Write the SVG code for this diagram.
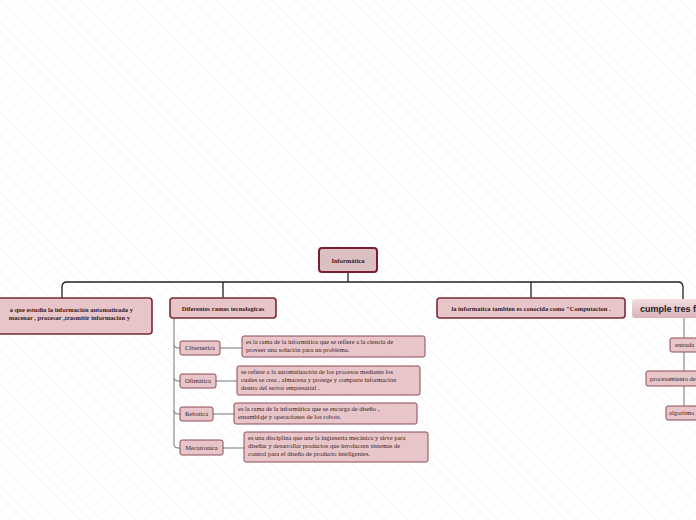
<svg xmlns="http://www.w3.org/2000/svg" width="696" height="520" viewBox="0 0 696 520">
<defs>
<pattern id="bg" width="8" height="8" patternUnits="userSpaceOnUse" patternTransform="rotate(-45)"><line x1="0" y1="0" x2="0" y2="8" stroke="#f0f0f0" stroke-width="1"/></pattern>
<linearGradient id="g" x1="0" y1="0" x2="0" y2="1"><stop offset="0" stop-color="#f2dde0"/><stop offset="1" stop-color="#d9b3b8"/></linearGradient>
</defs>
<style>
.n{fill:#e8c5c9;stroke:#8c4a56;stroke-width:1}
.m{fill:#e8c5c9;stroke:#7a2a38;stroke-width:1.6}
.r{fill:#dcbfc3;stroke:#7a1f30;stroke-width:2}
.t{font-family:"Liberation Serif",serif;font-size:6.5px;fill:#3a1a20}
.b{font-family:"Liberation Serif",serif;font-size:6.5px;font-weight:bold;fill:#3a1a20}
.c{fill:none;stroke:#222;stroke-width:1.3}
.c2{fill:none;stroke:#777;stroke-width:1}
</style>
<rect width="696" height="520" fill="#fff"/>
<rect width="696" height="520" fill="url(#bg)"/>
<g id="connectors">
<path class="c" d="M348 272V282M62 298V287Q62 282 67 282H678Q683 282 683 287V299"/>
<path class="c" d="M223 282V298M531 282V298"/>
<path class="c2" d="M174 318V445Q174 448 178 448H180M174 345Q174 348 178 348H180M174 378Q174 381 178 381H180M174 411Q174 414 178 414H180"/>
<path class="c2" d="M220 348H242M216 381H237M213 414H234M223 448H244"/>
<path class="c2" d="M684 318V420M684 345H696"/>
</g>
<g id="root"><rect class="r" x="319" y="248" width="58" height="24" rx="3"/><text class="b" x="348" y="263" text-anchor="middle">Informática</text></g>
<g id="def"><rect class="m" x="-10" y="298" width="162" height="36" rx="3"/><text class="b" x="133" y="312" text-anchor="end">a que estudia la información automatizada y</text><text class="b" x="130" y="320" text-anchor="end">macenar , procesar ,trasmitir información y</text></g>
<g id="ramas"><rect class="m" x="170" y="298" width="106" height="20" rx="3"/><text class="b" x="223" y="311" text-anchor="middle">Diferentes ramas tecnologicas</text></g>
<g id="comp"><rect class="m" x="437" y="298" width="188" height="20" rx="3"/><text class="b" x="531" y="311" text-anchor="middle">la informatica tambien es conocida como "Computacion .</text></g>
<g id="cumple"><rect x="632" y="299" width="80" height="19" rx="3" fill="url(#g)"/><text x="640" y="312" font-family="Liberation Sans,sans-serif" font-size="9" font-weight="bold" fill="#2a1a1e">cumple tres fu</text></g>
<g id="ciber"><rect class="n" x="180" y="341" width="40" height="14" rx="2"/><text class="t" x="200" y="350" text-anchor="middle">Cibernetica</text>
<rect class="n" x="242" y="336" width="183" height="21" rx="2"/><text class="t" x="246" y="344">es la rama de la informática que se refiere a la ciencia de</text><text class="t" x="246" y="352">proveer una solución para un problema.</text></g>
<g id="ofi"><rect class="n" x="180" y="374" width="36" height="14" rx="2"/><text class="t" x="198" y="383" text-anchor="middle">Ofimática</text>
<rect class="n" x="237" y="366" width="183" height="29" rx="2"/><text class="t" x="241" y="374">se refiere a la automatización de los procesos mediante los</text><text class="t" x="241" y="382">cuales se crea , almacena y protege y comparte información</text><text class="t" x="241" y="390">dentro del sector empresarial .</text></g>
<g id="rebo"><rect class="n" x="180" y="407" width="33" height="14" rx="2"/><text class="t" x="196.5" y="416" text-anchor="middle">Rebotica</text>
<rect class="n" x="234" y="403" width="183" height="21" rx="2"/><text class="t" x="238" y="411">es la rama de la informática que se encarga de diseño ,</text><text class="t" x="238" y="419">ensamblaje y operaciones de los robots.</text></g>
<g id="meca"><rect class="n" x="180" y="440" width="43" height="15" rx="2"/><text class="t" x="201.5" y="450" text-anchor="middle">Mecatronica</text>
<rect class="n" x="244" y="432" width="184" height="30" rx="2"/><text class="t" x="248" y="440">es una disciplina que une la ingieneria mecánica y sirve para</text><text class="t" x="248" y="448">diseñar y desarrollar productos que involucren sistemas de</text><text class="t" x="248" y="456">control para el diseño de producto inteligentes.</text></g>
<g id="entrada"><rect class="n" x="670" y="338" width="40" height="14" rx="2"/><text class="t" x="675" y="347">entrada</text></g>
<g id="proc"><rect class="n" x="646" y="371" width="64" height="15" rx="2"/><text class="t" x="650" y="381">procesamiento de</text></g>
<g id="algo"><rect class="n" x="666" y="406" width="44" height="14" rx="2"/><text class="t" x="669" y="415">algoritmo</text></g>
</svg>
